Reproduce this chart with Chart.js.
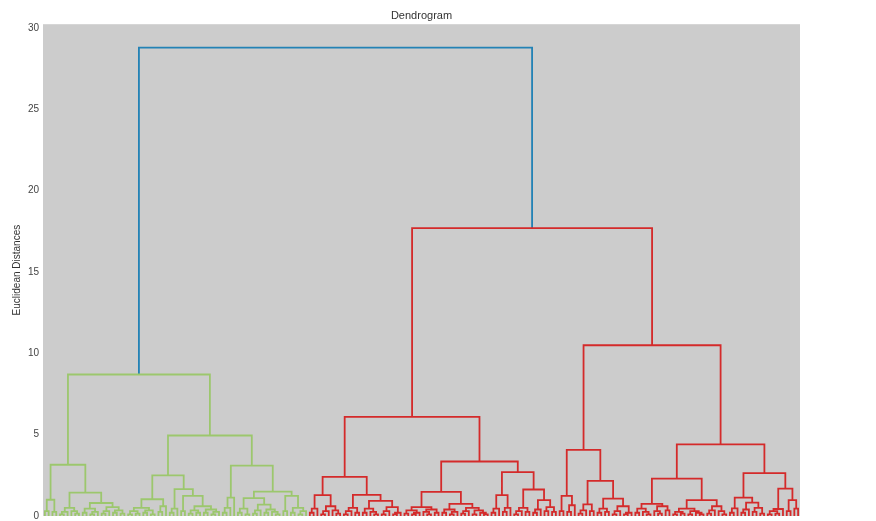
<!DOCTYPE html>
<html>
<head>
<meta charset="utf-8">
<script src="https://cdn.jsdelivr.net/npm/chart.js@4.4.0/dist/chart.umd.min.js"></script>
<style>
  html, body { margin: 0; background: #fff; }
  #wrap { width: 876px; height: 521px; }
</style>
</head>
<body>
<div id="wrap"><canvas id="myChart"></canvas></div>
<script>
// merge heights, [height, left, right]; 0 = one leaf
const greenLeft = [3.15,
    [1.0, [0.3, 0, 0], [0.25, 0, 0]],
    [1.44,
        [0.5, [0.25, [0.1, 0, 0], 0], [0.3, 0, [0.15, 0, 0]]],
        [0.8, [0.45, [0.2, 0, 0], [0.25, [0.1, 0, 0], 0]], [0.55, [0.3, [0.15, 0, 0], 0], [0.35, [0.2, 0, 0], [0.15, 0, 0]]]]]];
const greenRight = [4.95,
    [2.5,
        [1.03, [0.5, [0.3, [0.1, 0, 0], [0.15, 0, 0]], [0.35, [0.2, 0, 0], [0.1, 0, 0]]], [0.6, [0.25, 0, 0], 0]],
        [1.65, [0.45, [0.2, 0, 0], 0], [1.24, [0.3, 0, 0], [0.6, [0.35, [0.15, 0, 0], [0.2, 0, 0]], [0.4, [0.2, 0, 0], [0.25, [0.1, 0, 0], 0]]]]]],
    [3.1,
        [1.13, [0.5, [0.2, 0, 0], 0], 0],
        [1.5,
            [1.1, [0.45, [0.2, 0, 0], [0.1, 0, 0]], [0.7, [0.35, [0.15, 0, 0], 0], [0.4, [0.2, 0, 0], [0.25, 0, [0.1, 0, 0]]]]],
            [1.24, [0.3, 0, 0], [0.5, [0.2, 0, 0], [0.3, [0.1, 0, 0], 0]]]]]];
const redLeftA = [2.4,
    [1.28, [0.45, [0.2, 0, 0], 0], [0.6, [0.3, [0.1, 0, 0], 0], [0.35, 0, [0.15, 0, 0]]]],
    [1.3, [0.5, [0.3, [0.1, 0, 0], 0], [0.2, 0, 0]], [0.93, [0.45, [0.2, 0, 0], [0.25, 0, [0.1, 0, 0]]], [0.55, [0.3, [0.1, 0, 0], 0], [0.2, [0.1, 0, 0], 0]]]]];
const redLeftB = [3.35,
    [1.48,
        [0.55, [0.35, [0.15, 0, 0], [0.2, [0.1, 0, 0], 0]], [0.4, [0.25, 0, [0.1, 0, 0]], [0.2, 0, 0]]],
        [0.75, [0.4, [0.2, 0, 0], [0.25, [0.1, 0, 0], 0]], [0.5, [0.3, [0.15, 0, 0], 0], [0.35, [0.1, 0, 0], [0.2, 0, [0.1, 0, 0]]]]]],
    [2.7,
        [1.28, [0.45, [0.2, 0, 0], 0], [0.5, [0.25, 0, 0], 0]],
        [1.63, [0.5, [0.3, [0.1, 0, 0], 0], [0.25, 0, 0]], [0.97, [0.4, [0.2, 0, 0], 0], [0.55, [0.3, 0, 0], [0.25, 0, 0]]]]]];
const redRightA = [4.07,
    [1.24, [0.3, 0, 0], [0.66, [0.25, 0, 0], 0]],
    [2.16, [0.72, [0.35, [0.15, 0, 0], 0], [0.3, 0, 0]], [1.07, [0.45, [0.2, 0, 0], [0.25, 0, 0]], [0.6, [0.3, [0.1, 0, 0], 0], [0.2, [0.1, 0, 0], 0]]]]];
const redRightB = [4.4,
    [2.3,
        [0.75, [0.45, [0.2, 0, 0], [0.25, 0, [0.1, 0, 0]]], [0.6, [0.3, 0, [0.15, 0, 0]], [0.35, 0, 0]]],
        [0.97, [0.45, [0.25, [0.1, 0, 0], [0.15, 0, 0]], [0.3, [0.1, 0, 0], [0.2, 0, [0.1, 0, 0]]]], [0.6, [0.35, [0.15, 0, 0], 0], [0.3, 0, [0.1, 0, 0]]]]],
    [2.64,
        [1.13, [0.47, [0.2, 0, 0], 0], [0.82, [0.4, [0.2, 0, 0], 0], [0.5, [0.25, 0, 0], [0.15, 0, 0]]]],
        [1.68, [0.43, [0.3, [0.1, 0, 0], [0.15, 0, 0]], 0], [0.97, [0.3, 0, 0], [0.45, 0, 0]]]]];

const greenHeight = 8.7;
const redHeight = 17.7;
const redLeftHeight = 6.1;
const redRightHeight = 10.5;
const rootHeight = 28.8;
const yTicks = [0, 5, 10, 15, 20, 25, 30];

const tree = [rootHeight,
    [greenHeight, greenLeft, greenRight],
    [redHeight, [redLeftHeight, redLeftA, redLeftB], [redRightHeight, redRightA, redRightB]]];

// lay out like scipy: leaf i sits at 5 + 10 * i
let leaf = 0;
const links = { blue: [], green: [], red: [] };
function walk(node, color) {
    if (!Array.isArray(node)) return { x: 5 + 10 * leaf++, h: 0 };
    const l = walk(node[1], color);
    const r = walk(node[2], color);
    links[color].push({ x1: l.x, h1: l.h, x2: r.x, h2: r.h, h: node[0] });
    return { x: (l.x + r.x) / 2, h: node[0] };
}
// root link is blue, left branch green, right branch red
(function () {
    const l = walk(tree[1], "green");
    const r = walk(tree[2], "red");
    links.blue.push({ x1: l.x, h1: l.h, x2: r.x, h2: r.h, h: tree[0] });
})();

function points(list) {
    const pts = [];
    list.forEach(k => {
        pts.push({ x: k.x1, y: k.h1 }, { x: k.x1, y: k.h }, { x: k.x2, y: k.h }, { x: k.x2, y: k.h2 }, { x: k.x2, y: null });
    });
    return pts;
}

const plotBg = {
    id: 'plotBg',
    beforeDraw(chart) {
        const { ctx, chartArea: a } = chart;
        ctx.save();
        ctx.fillStyle = '#cccccc';
        ctx.fillRect(a.left, a.top, a.right - a.left, a.bottom - a.top);
        ctx.restore();
    }
};

const font = "'Liberation Sans', Arial, sans-serif";

new Chart(document.getElementById('myChart'), {
    type: 'line',
    data: {
        datasets: [
            { data: points(links.green), borderColor: '#9cc76d' },
            { data: points(links.red), borderColor: '#d42a2a' },
            { data: points(links.blue), borderColor: '#2382b5' }
        ].map(d => Object.assign(d, { borderWidth: 1.8, pointRadius: 0, spanGaps: false, tension: 0, clip: 3 }))
    },
    options: {
        responsive: true,
        maintainAspectRatio: false,
        animation: false,
        layout: { padding: { left: 0, right: 76, top: 0, bottom: 0 } },
        plugins: {
            legend: { display: false },
            tooltip: { enabled: false },
            title: {
                display: true,
                fullSize: false,
                text: 'Dendrogram',
                color: '#333',
                font: { family: font, size: 11, weight: 'normal' },
                padding: { top: 9, bottom: 2 }
            }
        },
        scales: {
            x: { type: 'linear', min: 0, max: leaf * 10, display: false },
            y: {
                min: 0,
                max: rootHeight * 1.05,
                afterFit: s => { s.width = 43; },
                afterBuildTicks: s => { s.ticks = yTicks.map(v => ({ value: v })); },
                ticks: { color: '#444', font: { family: font, size: 10 }, padding: -1, includeBounds: false },
                grid: { display: true, drawOnChartArea: false, drawTicks: true, tickLength: 5, color: 'rgba(0,0,0,0)' },
                border: { display: false },
                title: {
                    display: true,
                    text: 'Euclidean Distances',
                    color: '#333',
                    font: { family: font, size: 10 },
                    padding: { top: 11, bottom: 0 }
                }
            }
        }
    },
    plugins: [plotBg]
});
</script>
</body>
</html>
